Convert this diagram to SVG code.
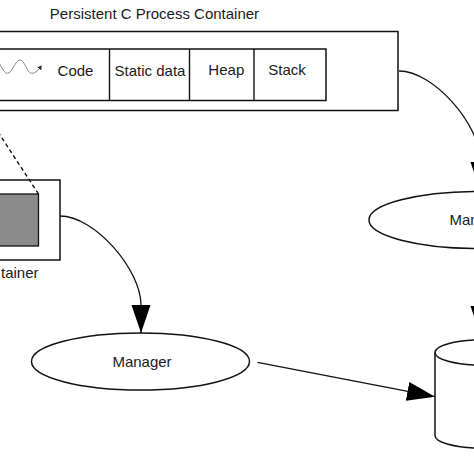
<svg xmlns="http://www.w3.org/2000/svg" width="474" height="474" viewBox="0 0 474 474">
<style>
.box{fill:#fff;stroke:#111;stroke-width:1.5}
.ln{fill:none;stroke:#111;stroke-width:1.4}
.conn{fill:none;stroke:#111;stroke-width:1.3}
.t{font-family:"Liberation Sans",Arial,sans-serif;font-size:15px;fill:#1a1a1a}
</style>
<defs>
<marker id="ah" markerUnits="userSpaceOnUse" markerWidth="30" markerHeight="20" refX="28" refY="9.5" orient="auto">
<path d="M0,0 L28,9.5 L0,19 z" fill="#000"/>
</marker>
<marker id="sm" markerUnits="userSpaceOnUse" markerWidth="6" markerHeight="6" refX="4" refY="2.5" orient="auto">
<path d="M0,0 L4,2.5 L0,5 z" fill="#222"/>
</marker>
</defs>
<rect width="474" height="474" fill="#fff"/>

<g id="process-container">
<text class="t" x="154.5" y="18.5" text-anchor="middle">Persistent C Process Container</text>
<rect class="box" x="-10" y="31.5" width="408" height="79"/>
<rect class="box" x="-10" y="49" width="336" height="51.5"/>
<line class="ln" x1="109.5" y1="49" x2="109.5" y2="100.5"/>
<line class="ln" x1="189.5" y1="49" x2="189.5" y2="100.5"/>
<line class="ln" x1="254" y1="49" x2="254" y2="100.5"/>
<path d="M-4.9,60 C0,60 2.4,73.3 7.3,73.3 C12.2,73.3 15.1,60 20,60 C24.9,60 26.8,73.3 31.7,73.3 C36,73.3 38.5,70 41.5,65.5" fill="none" stroke="#888" stroke-width="1" marker-end="url(#sm)"/>
<text class="t" x="75.5" y="76" text-anchor="middle">Code</text>
<text class="t" x="150" y="76" text-anchor="middle">Static data</text>
<text class="t" x="226.3" y="75" text-anchor="middle">Heap</text>
<text class="t" x="287" y="75" text-anchor="middle">Stack</text>
</g>

<g id="small-container">
<rect class="box" x="-10" y="180" width="70" height="80"/>
<rect x="-10" y="194" width="48.5" height="52" fill="#8a8a8a" stroke="#111" stroke-width="1.3"/>
<text class="t" x="38.5" y="278.3" text-anchor="end">tainer</text>
</g>

<g id="manager-left">
<ellipse class="box" cx="140.5" cy="361.5" rx="109" ry="28.5"/>
<text class="t" x="142" y="366.7" text-anchor="middle">Manager</text>
</g>

<g id="manager-right">
<ellipse class="box" cx="479" cy="220" rx="110" ry="28.5"/>
<text class="t" x="479" y="225" text-anchor="middle">Manager</text>
</g>

<g id="store">
<path d="M435,352.5 L435,435.5 A45,12.5 0 0 0 525,435.5 L525,352.5" fill="#fff" stroke="#111" stroke-width="1.5"/>
<ellipse class="box" cx="480" cy="352.5" rx="45" ry="12.5"/>
</g>

<g id="connectors">
<line x1="-2" y1="132" x2="38.5" y2="194" stroke="#111" stroke-width="1.4" stroke-dasharray="4,3"/>
<path class="conn" d="M60,216 C95,216 141,270 141,305 L141,333" marker-end="url(#ah)"/>
<path class="conn" d="M399,71 C434,71 480,125 480,160 L480,190" marker-end="url(#ah)"/>
<path class="conn" d="M480,248.5 L480,334" marker-end="url(#ah)"/>
<line class="conn" x1="257.5" y1="362.3" x2="435" y2="396.7" marker-end="url(#ah)"/>
</g>
</svg>
